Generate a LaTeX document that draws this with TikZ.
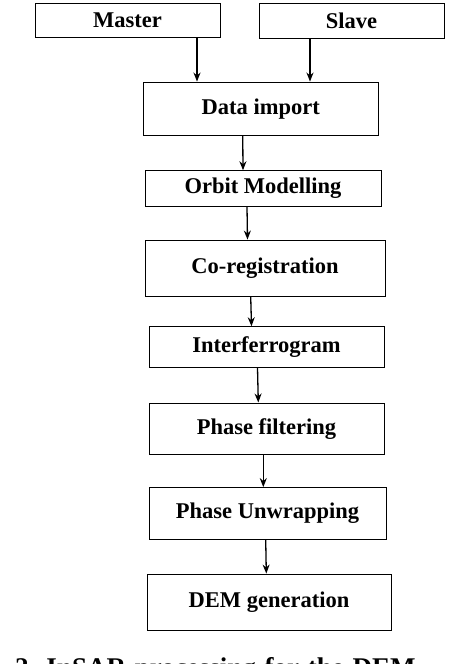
\documentclass[tikz,border=0pt]{standalone}
\usepackage{fontspec}
\setmainfont{Liberation Serif}
\usepackage{tikz}
\usetikzlibrary{arrows.meta}
\tikzset{
  stepbox/.style={draw=black,line width=0.9pt,inner sep=0pt,
    font=\bfseries\fontsize{22.5}{26}\selectfont},
  flowarrow/.style={-{Stealth[length=9pt,width=7pt]},line width=1.3pt},
  every picture/.style={font=\bfseries}
}

\begin{document}
\begin{tikzpicture}[x=1pt,y=-1pt]
  \useasboundingbox (0,0) rectangle (472,664);
  \clip (0,0) rectangle (472,664);
  \node[stepbox,minimum width=185pt,minimum height=34.5pt] (master) at (127.5,20.25) {Master};
  \node[stepbox,minimum width=185pt,minimum height=35pt] (slave) at (351.5,20.5) {Slave};
  \node[stepbox,minimum width=234.5pt,minimum height=53.5pt] (import) at (260.75,108.75) {Data import};
  \node[stepbox,minimum width=236pt,minimum height=35.6pt] (orbit) at (263,188.5) {Orbit Modelling};
  \node[stepbox,minimum width=240pt,minimum height=56pt] (coreg) at (265,268) {Co-registration};
  \node[stepbox,minimum width=235pt,minimum height=40.6pt] (interf) at (266.5,347) {Interferrogram};
  \node[stepbox,minimum width=235pt,minimum height=51.7pt] (filter) at (266.5,428.8) {Phase filtering};
  \node[stepbox,minimum width=237pt,minimum height=51.5pt] (unwrap) at (267.5,513.3) {Phase Unwrapping};
  \node[stepbox,minimum width=244pt,minimum height=56pt] (dem) at (269,602) {DEM generation};
  \draw[flowarrow] ([xshift=69.5pt]master.south) -- ([xshift=-63.75pt]import.north);
  \draw[flowarrow] ([xshift=-41.5pt]slave.south) -- ([xshift=49.25pt]import.north);
  \draw[flowarrow] ([xshift=-18pt]import.south) -- ([xshift=-20pt]orbit.north);
  \draw[flowarrow] ([xshift=-16pt]orbit.south) -- ([xshift=-17.5pt]coreg.north);
  \draw[flowarrow] ([xshift=-14.3pt]coreg.south) -- ([xshift=-15pt]interf.north);
  \draw[flowarrow] ([xshift=-9pt]interf.south) -- ([xshift=-8.2pt]filter.north);
  \draw[flowarrow] ([xshift=-3.2pt]filter.south) -- ([xshift=-4.2pt]unwrap.north);
  \draw[flowarrow] ([xshift=-1.8pt]unwrap.south) -- ([xshift=-2.7pt]dem.north);
  \node[anchor=base west,inner sep=0pt,font=\bfseries\fontsize{27}{30}\selectfont] (caption) at (15,676)
    {\spaceskip=8.8pt 2. InSAR processing for the DEM};
\end{tikzpicture}
\end{document}
